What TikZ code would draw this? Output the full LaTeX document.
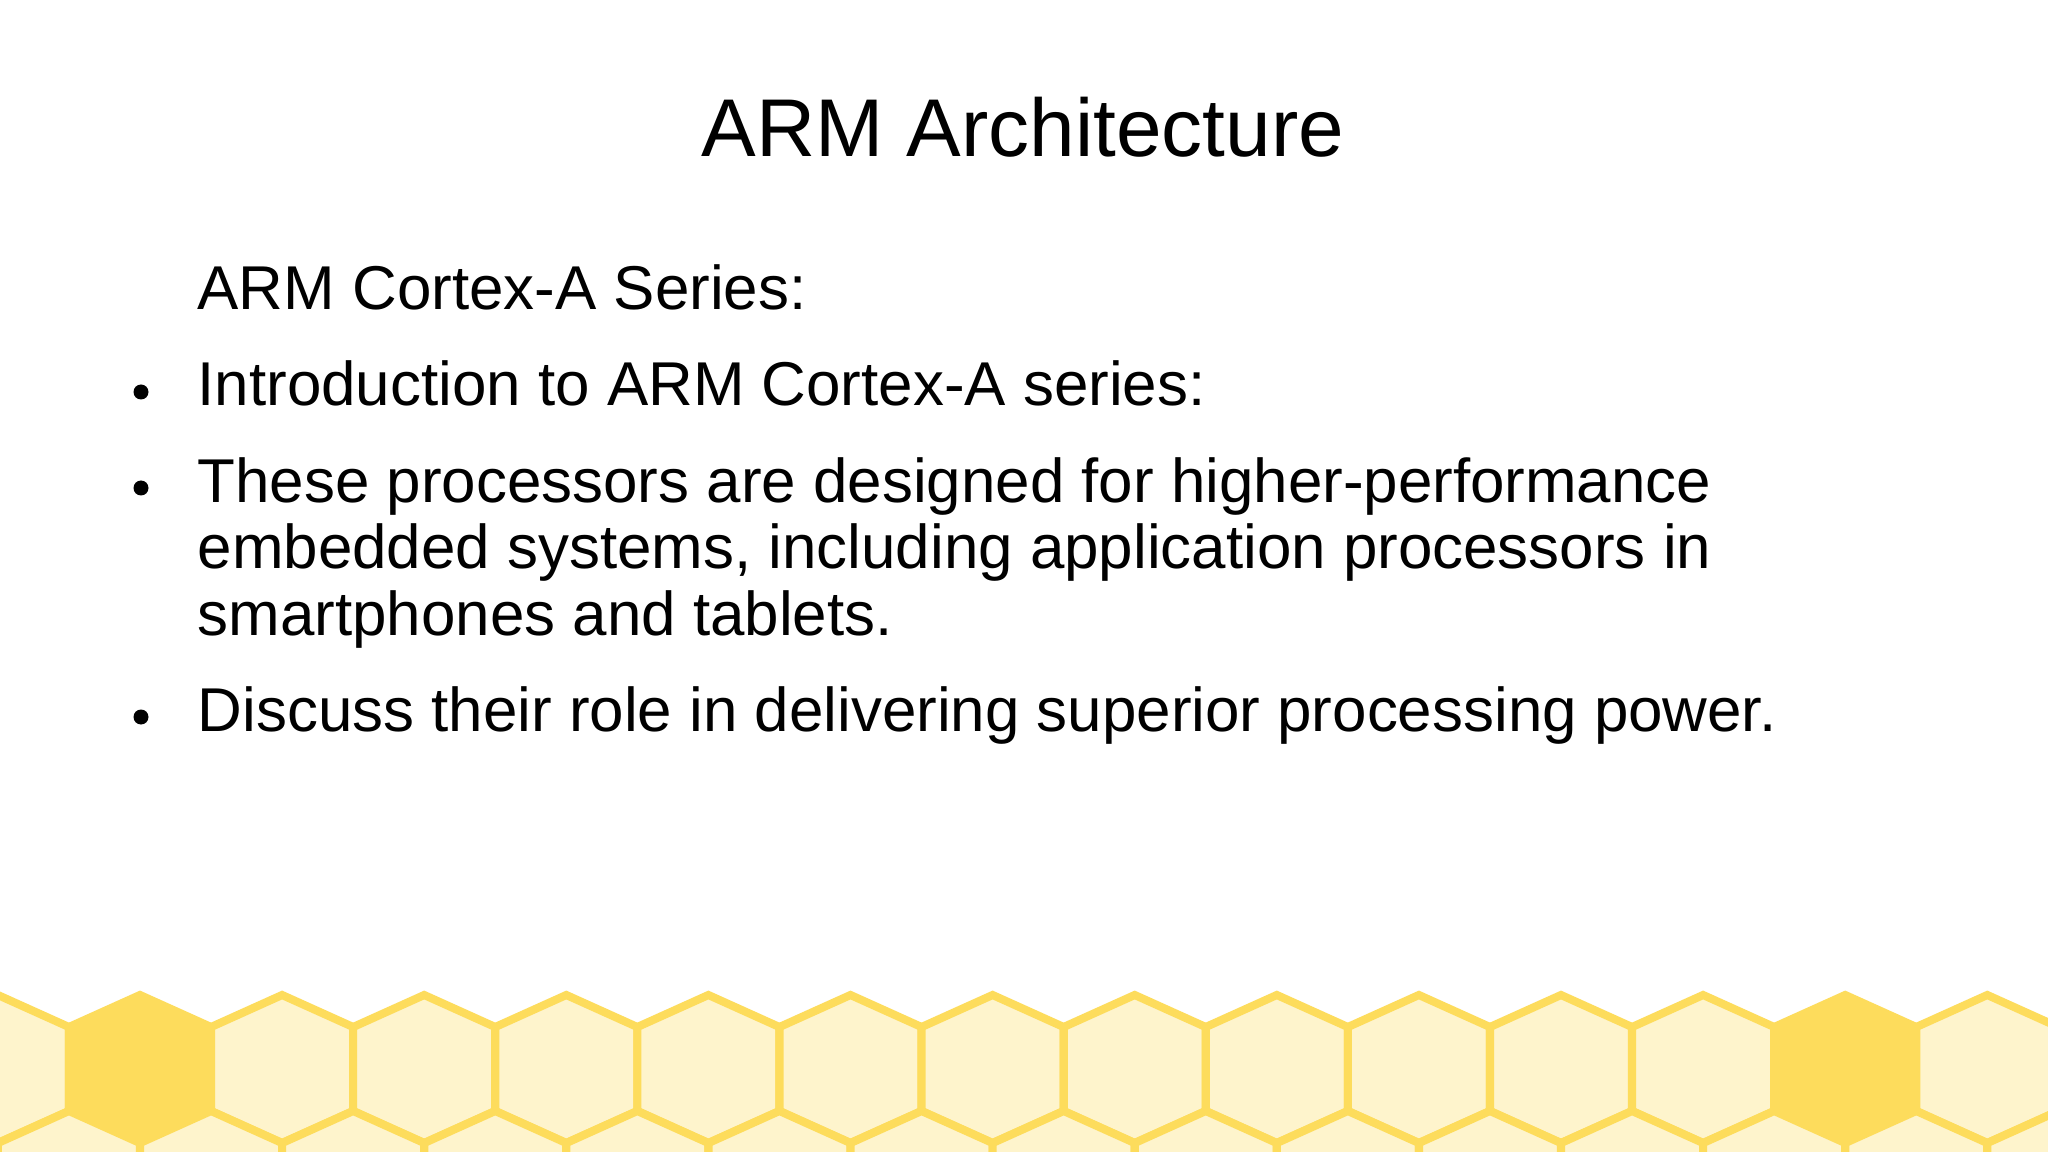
\documentclass[tikz,border=0pt]{standalone}
\usepackage{fontspec}
\setmainfont{Liberation Sans}
\definecolor{hexline}{HTML}{FDDC5C}
\definecolor{hexfill}{HTML}{FEF4CC}
\begin{document}
\begin{tikzpicture}[x=0.01cm,y=-0.01cm,
  hexcell/.style={fill=hexfill,draw=hexline,line width=2.3pt,line join=miter},
  hexstrong/.style={fill=hexline,draw=hexline,line width=2.3pt},
  bodytext/.style={anchor=base west,inner sep=0pt,font=\fontsize{17.6}{21}\selectfont}]
\useasboundingbox (0,0) rectangle (2048,1152);
\fill[white] (0,0) rectangle (2048,1152);
\begin{scope}
\clip (0,0) rectangle (2048,1152);
\foreach \r in {0,1}{
  \foreach \k in {-1,...,14}{
    \pgfmathsetmacro{\cx}{140+142.1*\k-71.05*\r}
    \pgfmathsetmacro{\cy}{1069+116*\r}
    \pgfmathtruncatemacro{\strong}{(\r==0)&&(\k==0||\k==12)}
    \ifnum\strong=1 \def\hs{hexstrong}\else\def\hs{hexcell}\fi
    \draw[\hs] (\cx,\cy-74) -- (\cx+71,\cy-42) -- (\cx+71,\cy+42) -- (\cx,\cy+74) -- (\cx-71,\cy+42) -- (\cx-71,\cy-42) -- cycle;
  }
}
\end{scope}
\node[font=\fontsize{23.3}{28}\selectfont,anchor=base] (title) at (1023,157) {ARM Architecture};
\node[bodytext] (h) at (197,310) {ARM Cortex-A Series:};
\node[bodytext] (b1) at (197,406) {Introduction to ARM Cortex-A series:};
\node[bodytext] (b2a) at (197,502) {These processors are designed for higher-performance};
\node[bodytext] (b2b) at (197,569) {embedded systems, including application processors in};
\node[bodytext] (b2c) at (197,636) {smartphones and tablets.};
\node[bodytext] (b3) at (197,731) {Discuss their role in delivering superior processing power.};
\foreach \y in {392,488,717}{\fill (141,\y) circle (7.5);}
\end{tikzpicture}
\end{document}
